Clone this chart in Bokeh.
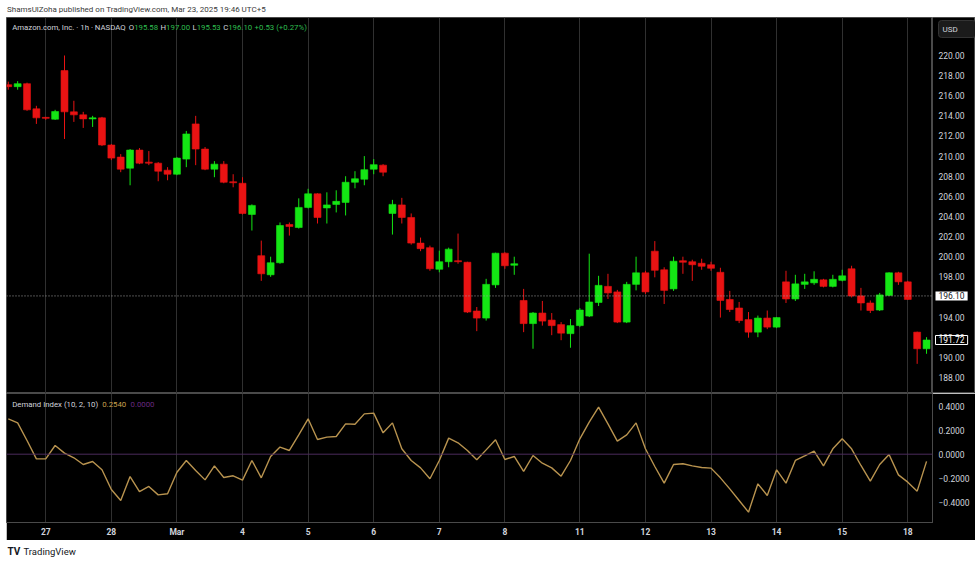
import numpy as np
from bokeh.plotting import figure
from bokeh.layouts import column, row
from bokeh.models import (ColumnDataSource, Label, Range1d, FixedTicker, Span,
                          CustomJSTickFormatter)
from bokeh.embed import file_html
from bokeh.resources import INLINE

# ---------------- data ----------------
opens = [217.1, 216.9, 217.2, 214.7, 213.85, 213.67, 218.5, 214.4, 214.1, 213.7,
         213.8, 211.1, 209.9, 208.8, 210.6, 209.4, 209.3, 208.6, 208.2, 209.7,
         213.2, 210.7, 208.7, 209.2, 207.45, 207.3, 204.2, 200.1, 198.2, 199.4,
         203.2, 202.9, 204.9, 206.25, 204.85, 205.2, 205.4, 207.4, 207.7, 208.7,
         209.1, 204.3, 205.15, 203.9, 201.35, 200.9, 198.75, 199.5, 199.6, 199.45,
         194.6, 193.9, 197.2, 200.35, 199.15, 195.65, 193.35, 194.4, 193.7, 193.25,
         192.35, 193.15, 194.1, 195.45, 197.05, 196.5, 193.5, 197.25, 198.4, 200.55,
         198.7, 196.8, 199.6, 199.5, 199.35, 199.2, 198.45, 195.75, 194.9, 193.75,
         192.5, 193.9, 193.0, 197.5, 195.8, 197.25, 197.4, 197.7, 197.05, 197.65,
         198.8, 196.1, 195.4, 194.7, 196.15, 198.4, 197.5, 192.5, 190.85]
highs = [217.4, 217.45, 217.3, 215.0, 213.9, 214.6, 220.0, 215.5, 214.4, 214.0,
         213.9, 211.2, 210.2, 210.7, 210.8, 210.5, 209.4, 208.9, 209.9, 212.5,
         214.0, 210.9, 209.5, 209.5, 208.2, 207.9, 205.2, 201.6, 200.0, 203.4,
         203.4, 205.8, 206.75, 206.3, 206.4, 206.6, 208.0, 208.5, 210.0, 209.7,
         209.2, 205.65, 205.85, 204.3, 201.9, 201.1, 200.6, 200.9, 202.3, 199.5,
         195.0, 197.8, 200.4, 200.45, 200.0, 196.8, 194.5, 195.6, 194.4, 193.5,
         193.8, 194.9, 200.3, 198.1, 198.3, 196.7, 197.5, 200.0, 198.6, 201.55,
         198.95, 200.0, 200.0, 199.7, 199.8, 199.5, 198.9, 196.6, 195.5, 194.5,
         194.15, 194.65, 194.0, 198.6, 198.2, 198.3, 198.55, 197.8, 198.2, 198.7,
         199.1, 196.9, 195.65, 196.4, 198.45, 198.5, 197.6, 192.55, 192.0]
lows = [216.6, 216.6, 214.5, 213.2, 213.6, 213.6, 211.7, 213.4, 212.8, 212.9,
        211.0, 209.6, 208.4, 207.1, 209.2, 209.1, 207.5, 207.6, 208.1, 208.9,
        209.1, 208.6, 207.9, 207.3, 206.9, 204.2, 202.6, 197.6, 198.0, 199.3,
        202.1, 202.8, 204.8, 203.3, 203.3, 204.4, 204.1, 206.8, 207.1, 208.2,
        208.0, 202.2, 203.3, 201.2, 200.55, 198.6, 198.45, 198.95, 199.3, 194.4,
        192.6, 193.65, 196.9, 198.8, 198.2, 192.5, 190.85, 193.15, 192.2, 191.7,
        190.95, 193.0, 194.0, 195.1, 195.8, 193.4, 193.4, 196.65, 196.3, 197.95,
        195.3, 196.6, 198.3, 197.6, 198.7, 198.6, 193.95, 194.5, 193.4, 191.95,
        192.0, 192.8, 192.9, 195.4, 195.6, 196.8, 197.2, 196.95, 196.95, 197.55,
        195.95, 194.65, 194.4, 194.6, 196.1, 197.2, 195.7, 189.35, 190.35]
closes = [216.9, 217.2, 214.6, 213.8, 213.75, 214.43, 214.4, 214.1, 213.7, 213.8,
          211.1, 209.8, 208.7, 210.6, 209.3, 209.3, 208.5, 208.2, 209.8, 212.2,
          210.7, 208.7, 209.2, 207.4, 207.35, 204.3, 205.1, 198.3, 199.4, 203.1,
          203.0, 204.9, 206.25, 203.9, 205.15, 205.5, 207.4, 207.75, 208.65, 209.15,
          208.4, 205.2, 203.9, 201.35, 200.8, 198.8, 199.5, 200.75, 199.5, 194.5,
          193.9, 197.25, 200.35, 199.1, 199.3, 193.35, 194.4, 193.6, 193.15, 192.4,
          193.15, 194.7, 195.5, 197.15, 196.4, 193.5, 197.25, 198.4, 196.5, 198.65,
          196.65, 199.55, 199.45, 199.2, 199.05, 198.85, 195.65, 194.75, 193.65, 192.5,
          193.9, 193.0, 193.95, 195.8, 197.3, 197.5, 197.75, 197.05, 197.75, 198.1,
          196.1, 195.4, 194.65, 196.2, 198.4, 197.5, 195.75, 190.85, 191.72]
demand_index = [0.295, 0.261, 0.114, -0.039, -0.039, 0.0725, 0.009, -0.030, -0.086, -0.061,
                -0.130, -0.294, -0.386, -0.186, -0.311, -0.269, -0.339, -0.330, -0.150, -0.0525,
                -0.136, -0.214, -0.097, -0.194, -0.180, -0.216, -0.0525, -0.197, -0.019, 0.059,
                0.031, 0.161, 0.295, 0.1225, 0.142, 0.1475, 0.253, 0.250, 0.336, 0.342,
                0.178, 0.261, 0.045, -0.0525, -0.114, -0.205, -0.0525, 0.134, 0.095, 0.031,
                -0.047, 0.036, 0.120, -0.044, -0.019, -0.144, -0.011, -0.075, -0.114, -0.183,
                -0.0525, 0.128, 0.267, 0.392, 0.253, 0.109, 0.161, 0.261, 0.045, -0.1025,
                -0.241, -0.086, -0.080, -0.097, -0.111, -0.116, -0.197, -0.289, -0.386, -0.483,
                -0.247, -0.344, -0.130, -0.241, -0.0525, -0.014, 0.025, -0.097, 0.045, 0.128,
                0.045, -0.094, -0.225, -0.086, -0.0025, -0.172, -0.233, -0.308, -0.060]
day_bar_index = [4, 11, 18, 25, 32, 39, 46, 53, 61, 68, 75, 82, 89, 96]
day_labels = ["27", "28", "Mar", "4", "5", "6", "7", "8", "11", "12", "13", "14", "15", "18"]
price_ticks = [188, 190, 192, 194, 196, 198, 200, 202, 204, 206, 208, 210, 212, 214, 216, 218, 220]
index_ticks = [-0.4, -0.2, 0.0, 0.2, 0.4]
last_price = 196.10
last_bar_close = 191.72
zero_level = 0.0
symbol_text = "Amazon.com, Inc. \u00b7 1h \u00b7 NASDAQ"
legend_ohlc = [("O", "195.58"), ("H", "197.00"), ("L", "195.53"), ("C", "196.10")]
legend_change = "+0.53 (+0.27%)"
di_title = "Demand Index (10, 2, 10)"
di_value = "0.2540"
zero_value = "0.0000"

# ---------------- style ----------------
FONT = "Roboto"
BG = "#000000"
TXT = "#d1d4dc"
GRID = "#303030"
FRAME = "#4a4a4a"
UP = "#14e614"
DOWN = "#e91313"
LEG_GREEN = "#2ebd4f"
DI_COLOR = "#b8934f"
LEG_SIZE = 7.8
AX_SIZE = "8.5px"

# approximate Roboto advance widths (em), used only to chain legend pieces
RW = {d: 0.562 for d in "0123456789"}
RW.update({".": 0.263, " ": 0.248, "+": 0.567, "(": 0.342, ")": 0.348, "%": 0.733,
           "O": 0.686, "H": 0.713, "L": 0.539, "C": 0.652})


def tw(s, size):
    return sum(RW.get(ch, 0.55) for ch in s) * size


PX_PER_BAR = 9.37
FRAME_W = 926
X0 = -0.19
X1 = X0 + FRAME_W / PX_PER_BAR

idx = np.arange(len(opens))
o = np.array(opens); c = np.array(closes)
colors = np.where(c >= o, UP, DOWN)
src = ColumnDataSource(dict(x=idx, high=highs, low=lows,
                            top=np.maximum(o, c), bottom=np.minimum(o, c), color=colors))

xr = Range1d(X0, X1)
yr_price = Range1d(186.402, 223.777)


def blank(width, height, **kw):
    p = figure(width=width, height=height, toolbar_location=None, output_backend="svg",
               x_axis_location=None, y_axis_location=None, min_border=0, **kw)
    p.grid.visible = False
    return p


# ---------------- header ----------------
hdr = blank(980, 17, x_range=(0, 1), y_range=(0, 1), outline_line_color=None,
            background_fill_color="white", border_fill_color="white")
hdr.add_layout(Label(x=6.5, y=8, x_units="screen", y_units="screen",
                     text="ShamsUlZoha published on TradingView.com, Mar 23, 2025 19:46 UTC+5",
                     text_font=FONT, text_font_size="8px", text_color="#3a3a3a",
                     text_baseline="middle"))

# ---------------- price pane ----------------
pf = figure(width=FRAME_W, height=376, x_range=xr, y_range=yr_price,
            toolbar_location=None, output_backend="svg", x_axis_location=None,
            y_axis_location=None, min_border=0, background_fill_color=BG,
            border_fill_color=BG, outline_line_color=FRAME, margin=(0, 0, 0, 6))
pf.xgrid.ticker = FixedTicker(ticks=day_bar_index)
pf.xgrid.grid_line_color = GRID
pf.ygrid.grid_line_color = None

pf.segment(x0="x", y0="high", x1="x", y1="low", source=src, line_color="color", line_width=1)
pf.vbar(x="x", width=0.74, top="top", bottom="bottom", source=src,
        fill_color="color", line_color="color", line_width=0.6)
pf.add_layout(Span(location=last_price, dimension="width", line_color="#a0a0a0",
                   line_dash="1 2", line_width=1))

LY = 366
pf.add_layout(Label(x=5.7, y=LY, x_units="screen", y_units="screen", text=symbol_text,
                    text_font=FONT, text_font_size="%.1fpx" % LEG_SIZE, text_color=TXT,
                    text_baseline="middle"))
cx = 122.3
for letter, val in legend_ohlc:
    pf.add_layout(Label(x=cx, y=LY, x_units="screen", y_units="screen", text=letter,
                        text_font=FONT, text_font_size="%.1fpx" % LEG_SIZE, text_color=TXT,
                        text_baseline="middle"))
    cx += tw(letter, LEG_SIZE)
    pf.add_layout(Label(x=cx, y=LY, x_units="screen", y_units="screen", text=val,
                        text_font=FONT, text_font_size="%.1fpx" % LEG_SIZE,
                        text_color=LEG_GREEN, text_baseline="middle"))
    cx += tw(val + " ", LEG_SIZE) + 0.5
pf.add_layout(Label(x=cx, y=LY, x_units="screen", y_units="screen", text=legend_change,
                    text_font=FONT, text_font_size="%.1fpx" % LEG_SIZE, text_color=LEG_GREEN,
                    text_baseline="middle"))

# ---------------- price scale (right strip) ----------------
axf = blank(43, 376, x_range=Range1d(0, 43), y_range=yr_price, outline_line_color=FRAME,
            background_fill_color=BG, border_fill_color=BG, margin=(0, 5, 0, 0))
axf.text(x=np.zeros(len(price_ticks)), y=price_ticks,
         text=["%.2f" % v for v in price_ticks], x_offset=6, text_font={"value": FONT},
         text_font_size={"value": AX_SIZE}, text_color=TXT, text_baseline="middle",
         text_align="left")
axf.add_layout(Label(x=3, y=last_price, text="%.2f" % last_price, text_font=FONT,
                     text_font_size=AX_SIZE, text_color="#131722", text_baseline="middle",
                     background_fill_color="white",
                     padding=dict(left=3, right=3, top=1, bottom=1)))
axf.add_layout(Label(x=3, y=last_bar_close, text="%.2f" % last_bar_close, text_font=FONT,
                     text_font_size=AX_SIZE, text_color="white", text_baseline="middle",
                     background_fill_color="black", border_line_color="white",
                     padding=dict(left=3, right=3, top=1, bottom=1)))
axf.add_layout(Label(x=6, y=364.5, x_units="screen", y_units="screen", text="USD",
                     text_font=FONT, text_font_size="8px", text_color=TXT,
                     text_baseline="middle", background_fill_color="#1b1b1b",
                     border_line_color="#333333", border_radius=3,
                     padding=dict(left=4, right=18, top=4, bottom=4)))

# ---------------- indicator pane ----------------
IY0, IY1 = -0.5692, 0.5058
ind = figure(width=969, height=147, x_range=xr, y_range=Range1d(IY0, IY1),
             toolbar_location=None, output_backend="svg", x_axis_location="below",
             y_axis_location="right", min_border_left=0, min_border_top=0,
             min_border_bottom=18, min_border_right=43, background_fill_color=BG,
             border_fill_color=BG, outline_line_color=FRAME, margin=(0, 5, 0, 6))
ind.xgrid.ticker = FixedTicker(ticks=day_bar_index)
ind.xgrid.grid_line_color = GRID
ind.ygrid.grid_line_color = None
xa = ind.xaxis[0]
xa.ticker = FixedTicker(ticks=day_bar_index)
xa.major_label_overrides = {i: s for i, s in zip(day_bar_index, day_labels)}
xa.major_tick_line_color = None
xa.minor_tick_line_color = None
xa.major_tick_out = 0
xa.major_tick_in = 0
xa.axis_line_color = FRAME
xa.major_label_text_color = TXT
xa.major_label_text_font = FONT
xa.major_label_text_font_size = AX_SIZE
xa.major_label_text_font_style = "bold"
xa.major_label_standoff = 4
yb = ind.yaxis[0]
yb.ticker = FixedTicker(ticks=index_ticks)
yb.formatter = CustomJSTickFormatter(
    code="return (tick < -1e-9 ? '\u2212' : '') + Math.abs(tick).toFixed(4)")
yb.major_tick_line_color = None
yb.minor_tick_line_color = None
yb.major_tick_out = 0
yb.major_tick_in = 0
yb.axis_line_color = FRAME
yb.major_label_text_color = TXT
yb.major_label_text_font = FONT
yb.major_label_text_font_size = AX_SIZE
yb.major_label_standoff = 6

ind.add_layout(Span(location=zero_level, dimension="width", line_color="#4b2a5c", line_width=1))
ind.line(idx, demand_index, line_color=DI_COLOR, line_width=1.4)

ILY = IY1 - 11.3 / 120.0
ind.add_layout(Label(x=5.7, y=ILY, x_units="screen", text=di_title, text_font=FONT,
                     text_font_size="%.1fpx" % LEG_SIZE, text_color=TXT,
                     text_baseline="middle"))
ind.add_layout(Label(x=95.7, y=ILY, x_units="screen", text=di_value, text_font=FONT,
                     text_font_size="%.1fpx" % LEG_SIZE, text_color="#c9a04e",
                     text_baseline="middle"))
ind.add_layout(Label(x=124.0, y=ILY, x_units="screen", text=zero_value, text_font=FONT,
                     text_font_size="%.1fpx" % LEG_SIZE, text_color="#6b2a80",
                     text_baseline="middle"))

# ---------------- footer ----------------
ftr = blank(980, 23, x_range=(0, 1), y_range=(0, 1), outline_line_color=None,
            background_fill_color="white", border_fill_color="white")
ftr.add_layout(Label(x=7, y=12, x_units="screen", y_units="screen", text="TV",
                     text_font=FONT, text_font_style="bold", text_font_size="10px",
                     text_color="#131722", text_baseline="middle"))
ftr.add_layout(Label(x=23, y=12, x_units="screen", y_units="screen", text="TradingView",
                     text_font=FONT, text_font_size="9.5px", text_color="#131722",
                     text_baseline="middle"))

layout = column(hdr, row(pf, axf, spacing=0), ind, ftr, spacing=0)
with open("out.html", "w", encoding="utf-8") as f:
    f.write(file_html(layout, INLINE))
